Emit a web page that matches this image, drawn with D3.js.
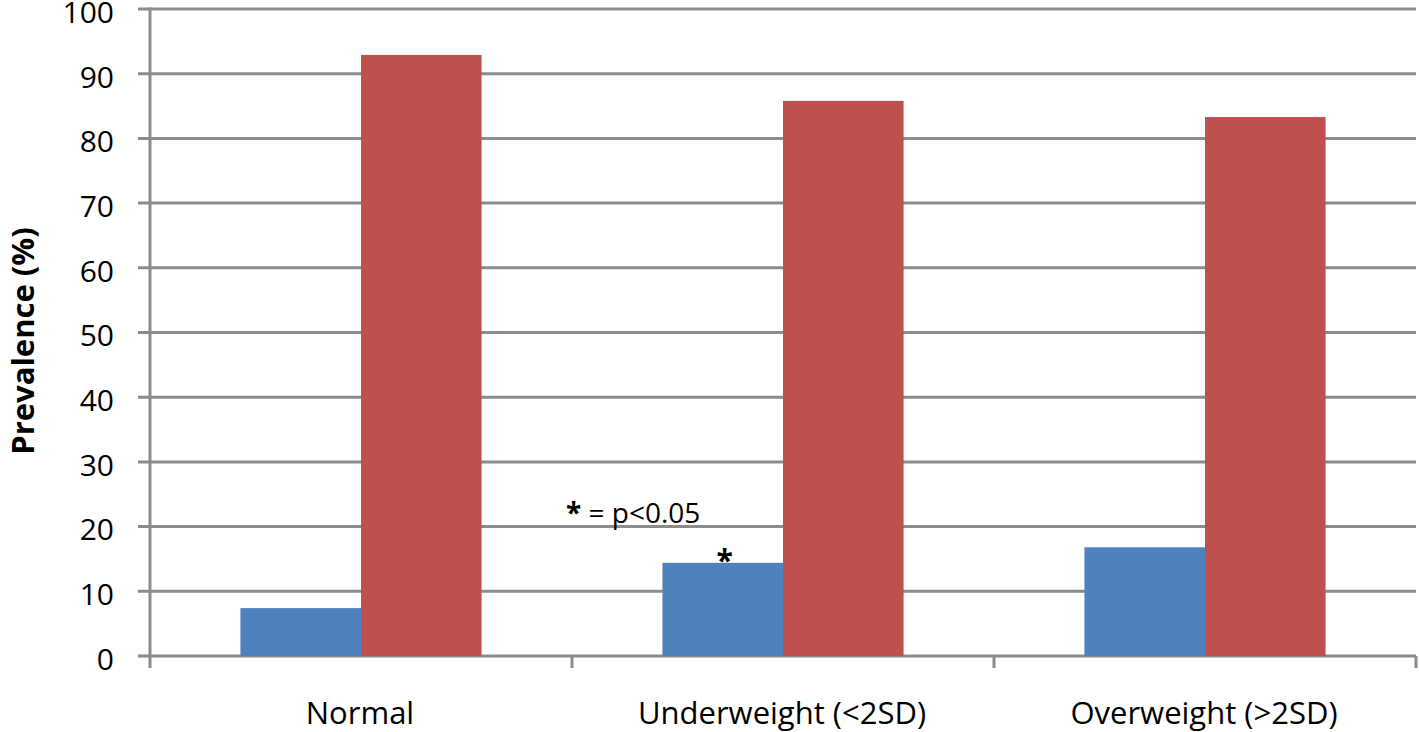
<!DOCTYPE html>
<html><head><meta charset="utf-8">
<script src="https://cdn.jsdelivr.net/npm/d3@7"></script>
<style>body{margin:0;background:#fff}svg{display:block}text{font-family:"Open Sans",Lato,sans-serif}</style>
</head><body>
<script>
const categories = ["Normal", "Underweight (<2SD)", "Overweight (>2SD)"];
const series = ["Group A", "Group B"];
const valuesA = [7.4, 14.4, 16.8];
const valuesB = [92.9, 85.8, 83.3];
const yTicks = [0,10,20,30,40,50,60,70,80,90,100];
const colors = ["#4F81BD", "#C0504D"];

const W = 1419, H = 732;
const m = {left:150, right:3, top:9, bottom:76};
const svg = d3.select("body").append("svg").attr("width", W).attr("height", H);

const x0 = d3.scaleBand().domain(categories).range([m.left, W - m.right]).paddingInner(0).paddingOuter(0);
const x1 = d3.scaleBand().domain(series).range([0, x0.bandwidth()]).paddingInner(0).paddingOuter(0.75);
const y = d3.scaleLinear().domain([0, 100]).range([H - m.bottom, m.top]);

const grid = "#8c8c8c";
svg.append("g").selectAll("line").data(yTicks).join("line")
  .attr("x1", m.left - 12).attr("x2", W - m.right)
  .attr("y1", d => y(d)).attr("y2", d => y(d))
  .attr("stroke", grid).attr("stroke-width", 3);

svg.append("line").attr("x1", m.left).attr("x2", m.left)
  .attr("y1", y(100) - 1.5).attr("y2", y(0) + 12).attr("stroke", grid).attr("stroke-width", 3);

const bounds = categories.map(c => x0(c)).concat([x0.range()[1]]);
svg.append("g").selectAll("line").data(bounds.slice(1)).join("line")
  .attr("x1", d => d).attr("x2", d => d)
  .attr("y1", y(0)).attr("y2", y(0) + 12).attr("stroke", grid).attr("stroke-width", 3);

svg.append("g").selectAll("text").data(yTicks).join("text")
  .attr("x", 114).attr("y", d => y(d)).attr("dy", "0.46em")
  .attr("text-anchor", "end").attr("font-size", 30).attr("fill", "#000")
  .text(d => d);

const rows = categories.map((c, i) => ({c, vals: [valuesA[i], valuesB[i]]}));
const g = svg.append("g").selectAll("g").data(rows).join("g")
  .attr("transform", d => `translate(${x0(d.c)},0)`);
g.selectAll("rect").data(d => d.vals.map((v, j) => ({s: series[j], v, j}))).join("rect")
  .attr("x", d => x1(d.s)).attr("width", x1.bandwidth())
  .attr("y", d => y(d.v)).attr("height", d => y(0) - y(d.v))
  .attr("fill", d => colors[d.j]);

svg.append("g").selectAll("text").data(categories).join("text")
  .attr("x", d => x0(d) + x0.bandwidth()/2 - 1).attr("y", 724)
  .attr("text-anchor", "middle").attr("font-size", 31).attr("fill", "#000")
  .text(d => d);

svg.append("text").attr("transform", `translate(34,341) rotate(-90)`)
  .attr("text-anchor", "middle").attr("font-size", 31).attr("font-weight", "bold")
  .text("Prevalence (%)");

const ann = svg.append("text").attr("x", 566).attr("y", 523).attr("font-size", 28);
ann.append("tspan").attr("font-weight", "bold").text("*");
ann.append("tspan").text(" = p<0.05");
svg.append("text").attr("x", x0(categories[1]) + x1(series[0]) + x1.bandwidth()/2 + 2)
  .attr("y", y(valuesA[1]) + 8).attr("text-anchor", "middle")
  .attr("font-size", 30).attr("font-weight", "bold").text("*");
</script>
</body></html>
